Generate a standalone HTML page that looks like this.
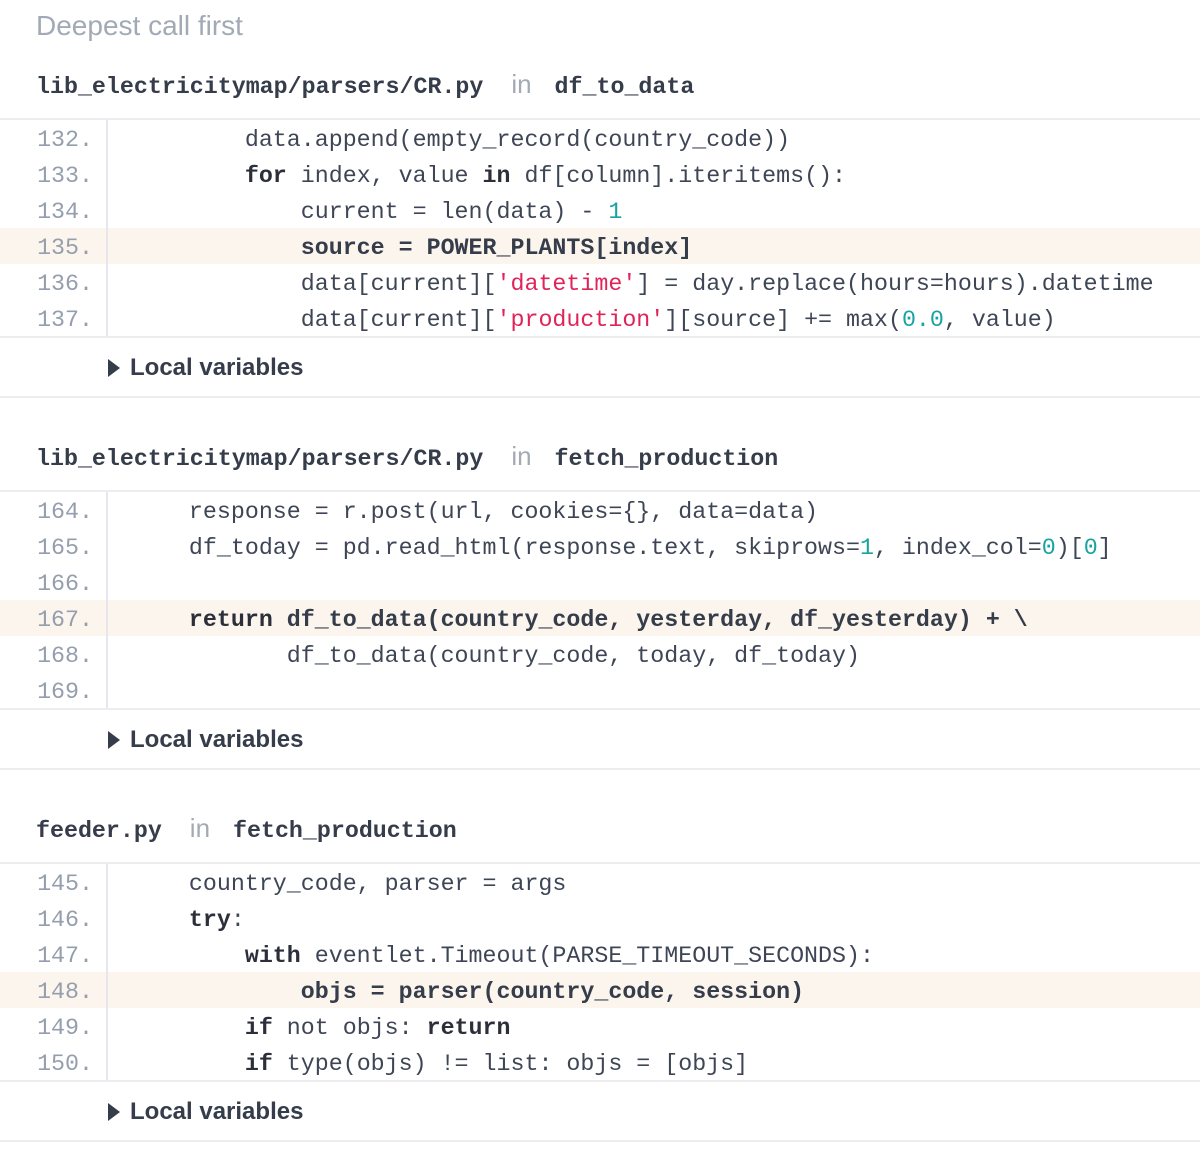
<!DOCTYPE html>
<html><head><meta charset="utf-8"><style>
body{margin:0;width:1200px;height:1176px;background:#fff;position:relative;overflow:hidden;font-family:"Liberation Mono",monospace;color:#3e4656}
.a{position:absolute;white-space:pre}
.t{left:36px;top:10px;font:28px "Liberation Sans",sans-serif;color:#a2aab5}
.h{font-size:23.3px;font-weight:bold;color:#353c4a;line-height:36px}
.in{font:26px "Liberation Sans",sans-serif;color:#a2aab5;font-weight:normal;margin-right:-5px}
.b{left:0;width:1200px;height:2px;background:#ececf1}
.g{left:106px;width:2px;background:#e6e6ec}
.hl{left:0;width:1200px;height:36px;background:#fcf5ed}
.n{left:0;width:93px;text-align:right;font-size:23.3px;line-height:36px;color:#959ead;margin-top:2px}
.c{left:133px;font-size:23.3px;line-height:36px;color:#3e4656;margin-top:2px}
.k{font-weight:bold;color:#2c2f3a}
.s{color:#e0245a}
.m{color:#18a3a3}
.lv{left:108px;font:bold 24px "Liberation Sans",sans-serif;color:#353c4a;line-height:36px}
.tri{display:inline-block;width:0;height:0;border-left:12px solid #353c4a;border-top:9px solid transparent;border-bottom:9px solid transparent;margin-right:10px;vertical-align:-2px}
</style></head><body>
<div class="a t">Deepest call first</div>

<div class="a h" style="left:36px;top:69px">lib_electricitymap/parsers/CR.py  <span class="in">in</span>  df_to_data</div>
<div class="a b" style="top:118px"></div>
<div class="a hl" style="top:228px"></div>
<div class="a g" style="top:120px;height:216px"></div>
<div class="a n" style="top:120px">132.</div><div class="a c" style="top:120px">        data.append(empty_record(country_code))</div>
<div class="a n" style="top:156px">133.</div><div class="a c" style="top:156px">        <span class="k">for</span> index, value <span class="k">in</span> df[column].iteritems():</div>
<div class="a n" style="top:192px">134.</div><div class="a c" style="top:192px">            current = len(data) - <span class="m">1</span></div>
<div class="a n" style="top:228px">135.</div><div class="a c k" style="top:228px;color:#353c4a">            source = POWER_PLANTS[index]</div>
<div class="a n" style="top:264px">136.</div><div class="a c" style="top:264px">            data[current][<span class="s">'datetime'</span>] = day.replace(hours=hours).datetime</div>
<div class="a n" style="top:300px">137.</div><div class="a c" style="top:300px">            data[current][<span class="s">'production'</span>][source] += max(<span class="m">0.0</span>, value)</div>
<div class="a b" style="top:336px"></div>
<div class="a lv" style="top:350px"><span class="tri"></span>Local variables</div>
<div class="a b" style="top:396px"></div>

<div class="a h" style="left:36px;top:441px">lib_electricitymap/parsers/CR.py  <span class="in">in</span>  fetch_production</div>
<div class="a b" style="top:490px"></div>
<div class="a hl" style="top:600px"></div>
<div class="a g" style="top:492px;height:216px"></div>
<div class="a n" style="top:492px">164.</div><div class="a c" style="top:492px">    response = r.post(url, cookies={}, data=data)</div>
<div class="a n" style="top:528px">165.</div><div class="a c" style="top:528px">    df_today = pd.read_html(response.text, skiprows=<span class="m">1</span>, index_col=<span class="m">0</span>)[<span class="m">0</span>]</div>
<div class="a n" style="top:564px">166.</div>
<div class="a n" style="top:600px">167.</div><div class="a c k" style="top:600px;color:#353c4a">    <span style="color:#2c2f3a">return</span> df_to_data(country_code, yesterday, df_yesterday) + \</div>
<div class="a n" style="top:636px">168.</div><div class="a c" style="top:636px">           df_to_data(country_code, today, df_today)</div>
<div class="a n" style="top:672px">169.</div>
<div class="a b" style="top:708px"></div>
<div class="a lv" style="top:722px"><span class="tri"></span>Local variables</div>
<div class="a b" style="top:768px"></div>

<div class="a h" style="left:36px;top:813px">feeder.py  <span class="in">in</span>  fetch_production</div>
<div class="a b" style="top:862px"></div>
<div class="a hl" style="top:972px"></div>
<div class="a g" style="top:864px;height:216px"></div>
<div class="a n" style="top:864px">145.</div><div class="a c" style="top:864px">    country_code, parser = args</div>
<div class="a n" style="top:900px">146.</div><div class="a c" style="top:900px">    <span class="k">try</span>:</div>
<div class="a n" style="top:936px">147.</div><div class="a c" style="top:936px">        <span class="k">with</span> eventlet.Timeout(PARSE_TIMEOUT_SECONDS):</div>
<div class="a n" style="top:972px">148.</div><div class="a c k" style="top:972px;color:#353c4a">            objs = parser(country_code, session)</div>
<div class="a n" style="top:1008px">149.</div><div class="a c" style="top:1008px">        <span class="k">if</span> not objs: <span class="k">return</span></div>
<div class="a n" style="top:1044px">150.</div><div class="a c" style="top:1044px">        <span class="k">if</span> type(objs) != list: objs = [objs]</div>
<div class="a b" style="top:1080px"></div>
<div class="a lv" style="top:1094px"><span class="tri"></span>Local variables</div>
<div class="a b" style="top:1140px"></div>
</body></html>
